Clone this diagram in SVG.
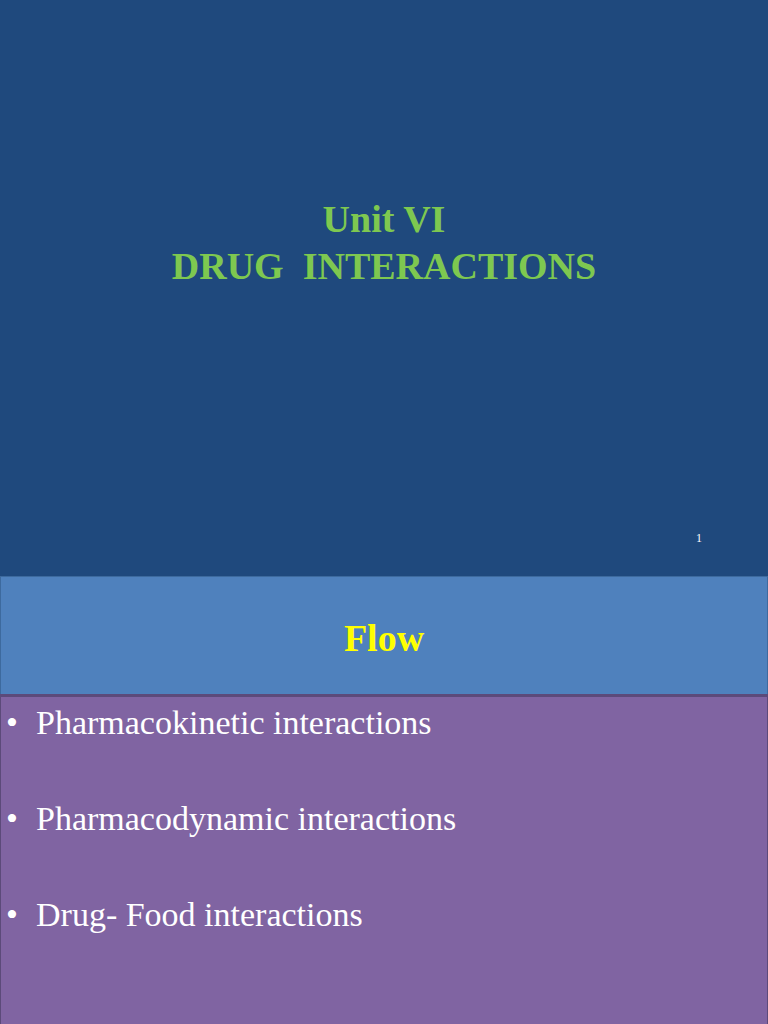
<svg xmlns="http://www.w3.org/2000/svg" width="768" height="1024" viewBox="0 0 768 1024">
<style>
.t{font-family:"Liberation Serif",serif;font-weight:bold;fill:#7ec850;font-size:38px;text-anchor:middle}
.b{font-family:"Liberation Serif",serif;fill:#ffffff;font-size:34px}
</style>
<g id="slide1">
<rect x="0" y="0" width="768" height="576" fill="#1f497d"/>
<text class="t" x="384" y="232">Unit VI</text>
<text class="t" x="384" y="279" xml:space="preserve">DRUG  INTERACTIONS</text>
<text x="699" y="542" font-family="Liberation Serif,serif" font-size="12" fill="#ffffff" text-anchor="middle">1</text>
</g>
<g id="header">
<rect x="0.5" y="576.5" width="767" height="118" fill="#4f81bd" stroke="#3d6a9e" stroke-width="1"/>
<text x="384" y="651" font-family="Liberation Serif,serif" font-weight="bold" font-size="38" fill="#ffff00" text-anchor="middle">Flow</text>
</g>
<g id="body">
<rect x="0.5" y="695.5" width="767" height="330" fill="#8064a2" stroke="#5c4a7a" stroke-width="1"/>
<line x1="0" y1="695.5" x2="768" y2="695.5" stroke="#5c4a7a" stroke-width="3"/>
<text class="b" x="6" y="734">•</text><text class="b" x="36" y="734">Pharmacokinetic interactions</text>
<text class="b" x="6" y="830">•</text><text class="b" x="36" y="830">Pharmacodynamic interactions</text>
<text class="b" x="6" y="926">•</text><text class="b" x="36" y="926">Drug- Food interactions</text>
</g>
</svg>
